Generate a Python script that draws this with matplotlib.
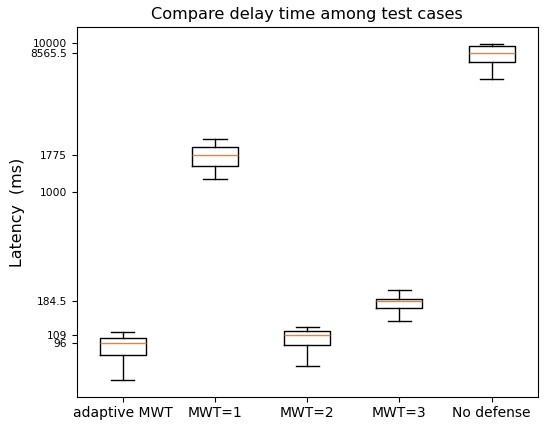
import matplotlib
matplotlib.use("Agg")
import matplotlib.pyplot as plt

# box statistics (ms)
cases = ["adaptive MWT", "MWT=1", "MWT=2", "MWT=3", "No defense"]
whisker_low = [54.4, 1223, 67.3, 136.3, 5754]
q1 = [80.5, 1496, 93.6, 166.7, 7452]
median = [96, 1775, 109, 184.5, 8565.5]
q3 = [103.8, 1998, 115.7, 191.7, 9590]
whisker_high = [115.0, 2272, 124.2, 219, 9890]

y_ticks = [96, 109, 184.5, 1000, 1775, 8565.5, 10000]
y_tick_labels = ["96", "109", "184.5", "1000", "1775", "8565.5", "10000"]


def main():
    stats = []
    for i, name in enumerate(cases):
        stats.append({
            "label": name,
            "whislo": whisker_low[i],
            "q1": q1[i],
            "med": median[i],
            "q3": q3[i],
            "whishi": whisker_high[i],
            "fliers": [],
        })

    fig = plt.figure(figsize=(5.5, 4.24), dpi=100)
    ax = fig.add_axes([0.1395, 0.0644, 0.8381, 0.8712])
    ax.bxp(stats, showfliers=False)
    ax.set_yscale("log")
    ax.minorticks_off()
    ax.set_yticks(y_ticks)
    ax.set_yticklabels(y_tick_labels)
    ax.tick_params(axis="y", labelsize=7.7)
    ax.tick_params(axis="x", labelsize=10)
    ax.set_ylabel("Latency  (ms)", fontsize=11.4)
    ax.set_title("Compare delay time among test cases", fontsize=11.6)

    fig.savefig("out.png", dpi=100)


if __name__ == "__main__":
    main()
